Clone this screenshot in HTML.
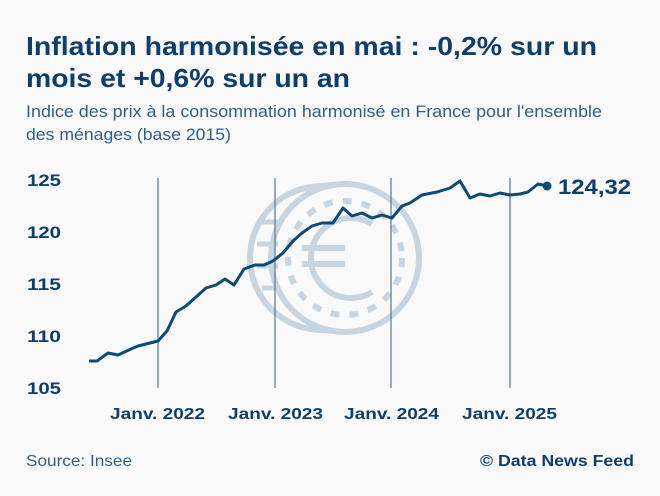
<!DOCTYPE html>
<html><head><meta charset="utf-8"><style>
body{margin:0;background:#f9f9f9;}
svg{display:block}
text{font-family:"Liberation Sans",sans-serif;}
</style></head><body>
<svg width="660" height="496" viewBox="0 0 660 496">
<rect width="660" height="496" fill="#f9f9f9"/>
<text x="26" y="55" font-size="26" font-weight="bold" fill="#0e3f6c" textLength="571" lengthAdjust="spacingAndGlyphs">Inflation harmonisée en mai : -0,2% sur un</text>
<text x="26" y="87" font-size="26" font-weight="bold" fill="#0e3f6c" textLength="324" lengthAdjust="spacingAndGlyphs">mois et +0,6% sur un an</text>
<text x="26" y="117" font-size="17" fill="#2f5f8a" textLength="576" lengthAdjust="spacingAndGlyphs">Indice des prix à la consommation harmonisé en France pour l'ensemble</text>
<text x="26" y="140" font-size="17" fill="#2f5f8a" textLength="205" lengthAdjust="spacingAndGlyphs">des ménages (base 2015)</text>
<g fill="none" stroke="#c7d5e0">
<circle cx="322" cy="258" r="72" stroke-width="6"/>
<path d="M322 186 L345 184 M322 330 L345 331" stroke-width="6"/>
<circle cx="345" cy="258" r="74" stroke-width="6" fill="#f9f9f9"/>
<circle cx="345" cy="258" r="57" stroke-width="6" stroke-dasharray="9 10"/>
<path d="M372 224 A40 40 0 1 0 372 292" stroke-width="6"/>
<path d="M302 248 H345 M302 264 H345" stroke-width="6"/>
<path d="M262 222 H280 M257 244 H278 M257 266 H278 M262 288 H280" stroke-width="5"/>
</g>
<g stroke="#5d80a0" stroke-width="1.3">
<line x1="158" y1="178" x2="158" y2="388"/>
<line x1="275" y1="178" x2="275" y2="388"/>
<line x1="391" y1="178" x2="391" y2="388"/>
<line x1="510" y1="178" x2="510" y2="388"/>
</g>
<g font-size="17" font-weight="bold" fill="#0e3f6c">
<text x="27" y="186" textLength="34" lengthAdjust="spacingAndGlyphs">125</text>
<text x="27" y="238" textLength="34" lengthAdjust="spacingAndGlyphs">120</text>
<text x="27" y="290" textLength="34" lengthAdjust="spacingAndGlyphs">115</text>
<text x="27" y="342" textLength="34" lengthAdjust="spacingAndGlyphs">110</text>
<text x="27" y="394" textLength="34" lengthAdjust="spacingAndGlyphs">105</text>
</g>
<g font-size="16" font-weight="bold" fill="#0e3f6c">
<text x="110" y="419" textLength="95" lengthAdjust="spacingAndGlyphs">Janv. 2022</text>
<text x="228" y="419" textLength="95" lengthAdjust="spacingAndGlyphs">Janv. 2023</text>
<text x="344" y="419" textLength="95" lengthAdjust="spacingAndGlyphs">Janv. 2024</text>
<text x="462" y="419" textLength="95" lengthAdjust="spacingAndGlyphs">Janv. 2025</text>
</g>
<polyline fill="none" stroke="#0e4a78" stroke-width="3" stroke-linejoin="round" points="89,361 97,361 108,353 118,355 131,349 138,346 146,344 158,341 167,331 176,312 186,306 196,297 206,288 216,285 225,279 234,285 244,269 255,265 264,265 273,261 283,253 293,241 302,233 312,226 322,223 333,223 343,208 352,216 362,213 372,218 382,215 392,218 402,206 410,203 422,195 437,192 450,188 460,181 470,198 480,194 490,196 500,193 510,195 520,194 528,192 538,184 547,186"/>
<circle cx="547" cy="186" r="4.5" fill="#0e4a78"/>
<text x="558" y="194" font-size="21" font-weight="bold" fill="#0e3f6c" textLength="73" lengthAdjust="spacingAndGlyphs">124,32</text>
<text x="26" y="466" font-size="16" fill="#2f5f8a" textLength="106" lengthAdjust="spacingAndGlyphs">Source: Insee</text>
<text x="480" y="466" font-size="16" font-weight="bold" fill="#0e3f6c" textLength="154" lengthAdjust="spacingAndGlyphs">© Data News Feed</text>
</svg>
</body></html>
